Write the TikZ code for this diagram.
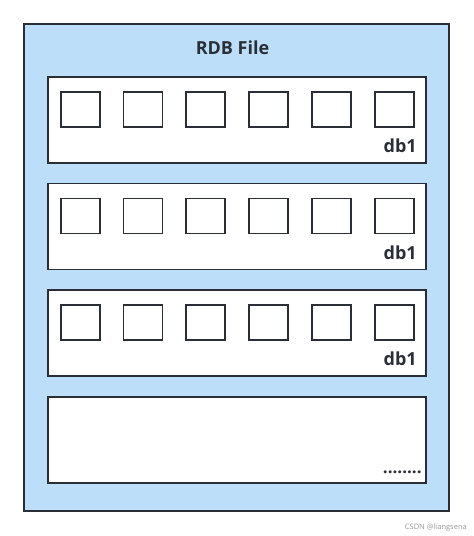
\documentclass[tikz,border=0pt]{standalone}
\usepackage{fontspec}
\setmainfont{Open Sans}
\usepackage{tikz}
\usetikzlibrary{positioning}

\definecolor{rdbblue}{RGB}{189,222,249}
\definecolor{rdbline}{RGB}{42,46,54}

\tikzset{
  filebox/.style={rectangle,draw=rdbline,fill=rdbblue,line width=1.8pt,minimum width=425pt,minimum height=487pt,inner sep=0pt},
  dbbox/.style={rectangle,draw=rdbline,fill=white,line width=1.8pt,minimum width=378pt,minimum height=86pt,inner sep=0pt},
  keybox/.style={rectangle,draw=rdbline,fill=white,line width=1.8pt,minimum width=39pt,minimum height=35pt,inner sep=0pt},
  dblabel/.style={font=\fontsize{18}{21}\selectfont\bfseries,text=rdbline,inner sep=0pt}
}

\begin{document}
\begin{tikzpicture}[x=1pt,y=-1pt]
            \useasboundingbox (0,0) rectangle (474,536);
            \node[filebox](file)at(236.5, 267.5){};
            \node[dblabel](title)at(232.5, 48){RDB File};
            \foreach \db/\y in {A/120,B/226.5,C/333}{
              \node[dbbox](db\db)at(237, \y){};
              \foreach \k/\x in {1/80.5,2/143,3/205.5,4/268.5,5/331.5,6/394.5}{
                \node[keybox](key\db\k)at(\x, {\y-10.5}){};
              }
              \node[dblabel,anchor=base east](name\db)at([xshift=-10pt,yshift=11pt]db\db.south east){db1};
            }
            \node[dbbox](dbD)at(237, 440){};
            \node[dblabel,font=\fontsize{17}{20}\selectfont\bfseries,anchor=base east](more)at([xshift=-5pt,yshift=10pt]dbD.south east){........};
            \node[font=\fontsize{7.5}{9}\selectfont,text=black!40,anchor=east,inner sep=0pt](mark)at(467, 528){CSDN @liangsena};
        \end{tikzpicture}
\end{document}
